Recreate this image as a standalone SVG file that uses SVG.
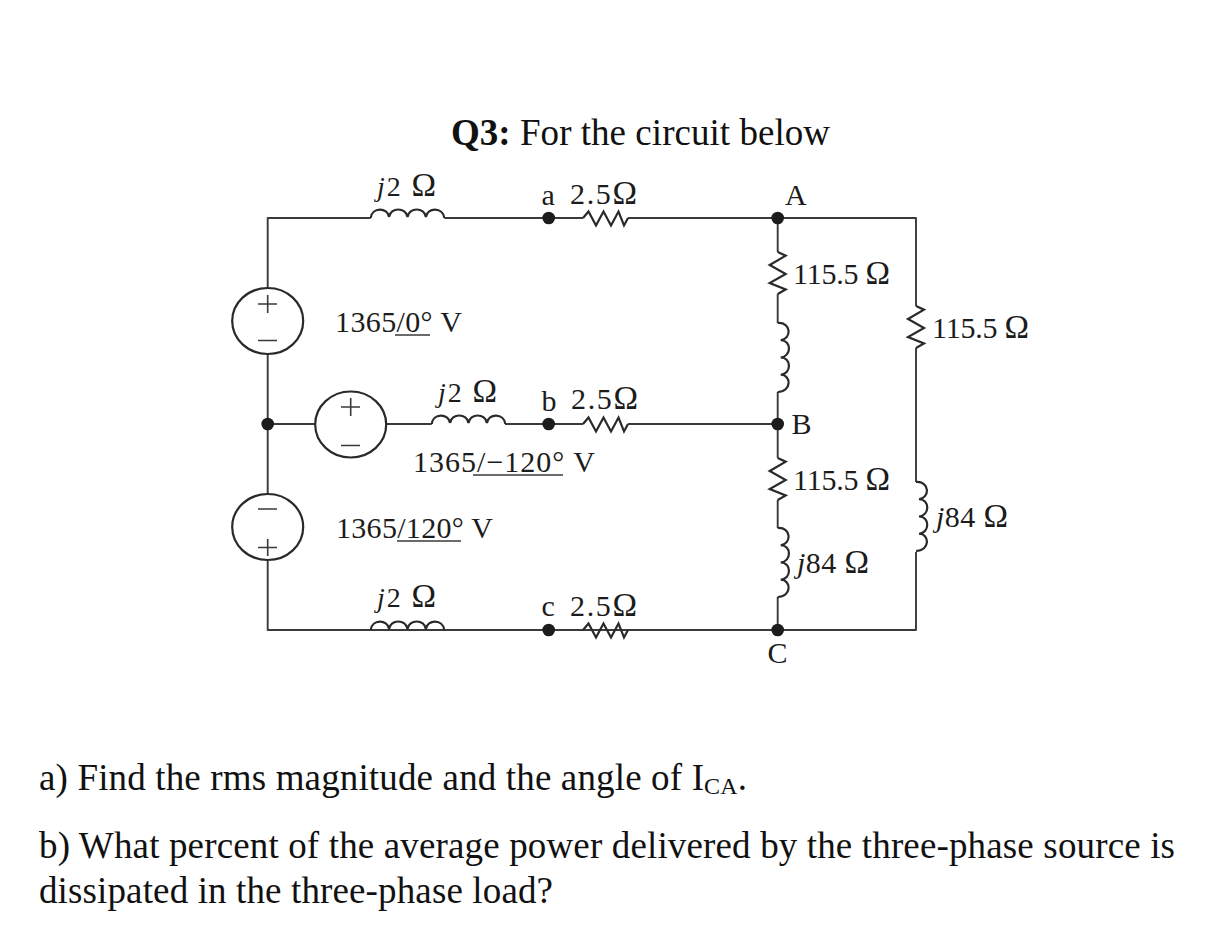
<svg xmlns="http://www.w3.org/2000/svg" width="1206" height="950" viewBox="0 0 1206 950">
<style>
text{font-family:"Liberation Serif","Times New Roman",serif;fill:#1c1c1c}
.l{font-size:30px}
.m{font-size:28px}
.h{font-size:37px;fill:#111}
.i{font-style:italic}
.o{font-size:33px}
.w{fill:none;stroke:#3a3a3a;stroke-width:1.9;stroke-linejoin:round}
.c{fill:none;stroke:#2a2a2a;stroke-width:2.2}
.s{fill:none;stroke:#3a3a3a;stroke-width:1.6}
.d{fill:#1c1c1c}
</style>
<defs>
<path id="ind-h" class="c" d="M0 0C1 -11 17 -11 18.400 -1C19.500 -11 35.500 -11 36.800 -1C38 -11 54 -11 55.200 -1C56.500 -11 72.500 -11 73.600 0"/>
<path id="ind-v" class="c" d="M0 0C14 -1 14 16 3 17.250C14 17.250 14 33.500 3 34.500C14 34.500 14 51 3 51.750C14 51.750 14 69 0 69"/>
<path id="res-h" class="c" d="M0 0L5.500 -6.500L13 7.500L20.500 -6.500L28 7.500L35.500 -6.500L41 7.500L45 0"/>
<path id="res-v" class="c" d="M0 0L8 3.700L-8 13L8 22L-8 31L8 37.500L0 42"/>
</defs>
<g id="connectors">
<path class="w" d="M267.700 288V218H370.700M444.300 218H583M628 218H916V306M916 348V482M916 552V630H267.700V560M267.700 354V494"/>
<path class="w" d="M267.700 424H315M386 424H431.700M505 424H583M628 424H777.700M777.700 218V252M777.700 294V323M777.700 392V458M777.700 500V528M777.700 597V630"/>
</g>
<g id="source-a"><ellipse class="c" cx="267.700" cy="321" rx="35.500" ry="33"/><path class="s" d="M267.700 295V313M258 304H277M258 340.500H277"/></g>
<g id="source-b"><ellipse class="c" cx="350.700" cy="424.500" rx="35.500" ry="33"/><path class="s" d="M350.700 398V416M341 407H360M341 445.500H360"/></g>
<g id="source-c"><ellipse class="c" cx="267.700" cy="527" rx="35.500" ry="33"/><path class="s" d="M258 509H277M267.700 539V556M258 547.500H277"/></g>
<g id="inductor-a"><use href="#ind-h" x="370.700" y="218"/><text class="m" x="377" y="196" textLength="59"><tspan class="i">j</tspan>2 <tspan class="o">Ω</tspan></text></g>
<g id="inductor-b"><use href="#ind-h" x="431.700" y="424"/><text class="m" x="438" y="402" textLength="59"><tspan class="i">j</tspan>2 <tspan class="o">Ω</tspan></text></g>
<g id="inductor-c"><use href="#ind-h" x="370.700" y="630"/><text class="m" x="377" y="607" textLength="59"><tspan class="i">j</tspan>2 <tspan class="o">Ω</tspan></text></g>
<g id="resistor-a"><use href="#res-h" x="583" y="218"/><text class="l" x="570" y="204" textLength="67">2.5<tspan class="o">Ω</tspan></text></g>
<g id="resistor-b"><use href="#res-h" x="583" y="424"/><text class="l" x="571" y="409" textLength="67">2.5<tspan class="o">Ω</tspan></text></g>
<g id="resistor-c"><use href="#res-h" x="583" y="630"/><text class="l" x="570" y="616" textLength="67">2.5<tspan class="o">Ω</tspan></text></g>
<g id="node-a"><circle class="d" cx="548.700" cy="218" r="6.300"/><text class="l" x="541.500" y="205">a</text></g>
<g id="node-b"><circle class="d" cx="548.700" cy="424" r="6.300"/><text class="l" x="541.500" y="411">b</text></g>
<g id="node-c"><circle class="d" cx="548.700" cy="630" r="6.300"/><text class="l" x="541.500" y="616">c</text></g>
<g id="node-n"><circle class="d" cx="267.700" cy="424" r="6.300"/></g>
<g id="node-A"><circle class="d" cx="777.700" cy="218" r="6.300"/><text class="l" x="785" y="205">A</text></g>
<g id="node-B"><circle class="d" cx="777.700" cy="424" r="6.300"/><text class="l" x="791.500" y="434">B</text></g>
<g id="node-C"><circle class="d" cx="777.700" cy="630" r="6.300"/><text class="l" x="767.500" y="663">C</text></g>
<g id="load-ab"><use href="#res-v" x="777.700" y="252"/><use href="#ind-v" x="777.700" y="323"/><text class="l" x="793" y="284" textLength="97">115.5 <tspan class="o">Ω</tspan></text></g>
<g id="load-bc"><use href="#res-v" x="777.700" y="458"/><use href="#ind-v" x="777.700" y="528"/><text class="l" x="793" y="490" textLength="97">115.5 <tspan class="o">Ω</tspan></text><text class="l" x="797" y="573" textLength="72"><tspan class="i">j</tspan>84 <tspan class="o">Ω</tspan></text></g>
<g id="load-ca"><use href="#res-v" x="916" y="306"/><use href="#ind-v" x="916" y="482"/><text class="l" x="932" y="338" textLength="97">115.5 <tspan class="o">Ω</tspan></text><text class="l" x="936" y="527" textLength="72"><tspan class="i">j</tspan>84 <tspan class="o">Ω</tspan></text></g>
<g id="label-va"><text class="l" x="335" y="332" textLength="127">1365/0° V</text><path class="s" d="M395 335H430"/></g>
<g id="label-vb"><text class="l" x="413" y="472" textLength="182">1365/−120° V</text><path class="s" d="M473 475H563"/></g>
<g id="label-vc"><text class="l" x="336" y="538" textLength="157">1365/120° V</text><path class="s" d="M397 541H461"/></g>
<g id="question">
<text class="h" x="451" y="145" textLength="379"><tspan font-weight="700">Q3:</tspan> For the circuit below</text>
<text class="h" x="39" y="790" textLength="708">a) Find the rms magnitude and the angle of I<tspan font-size="24" dy="4">CA</tspan><tspan dy="-4">.</tspan></text>
<text class="h" x="39" y="858" textLength="1136">b) What percent of the average power delivered by the three-phase source is</text>
<text class="h" x="39" y="903" textLength="514">dissipated in the three-phase load?</text>
</g>
</svg>
